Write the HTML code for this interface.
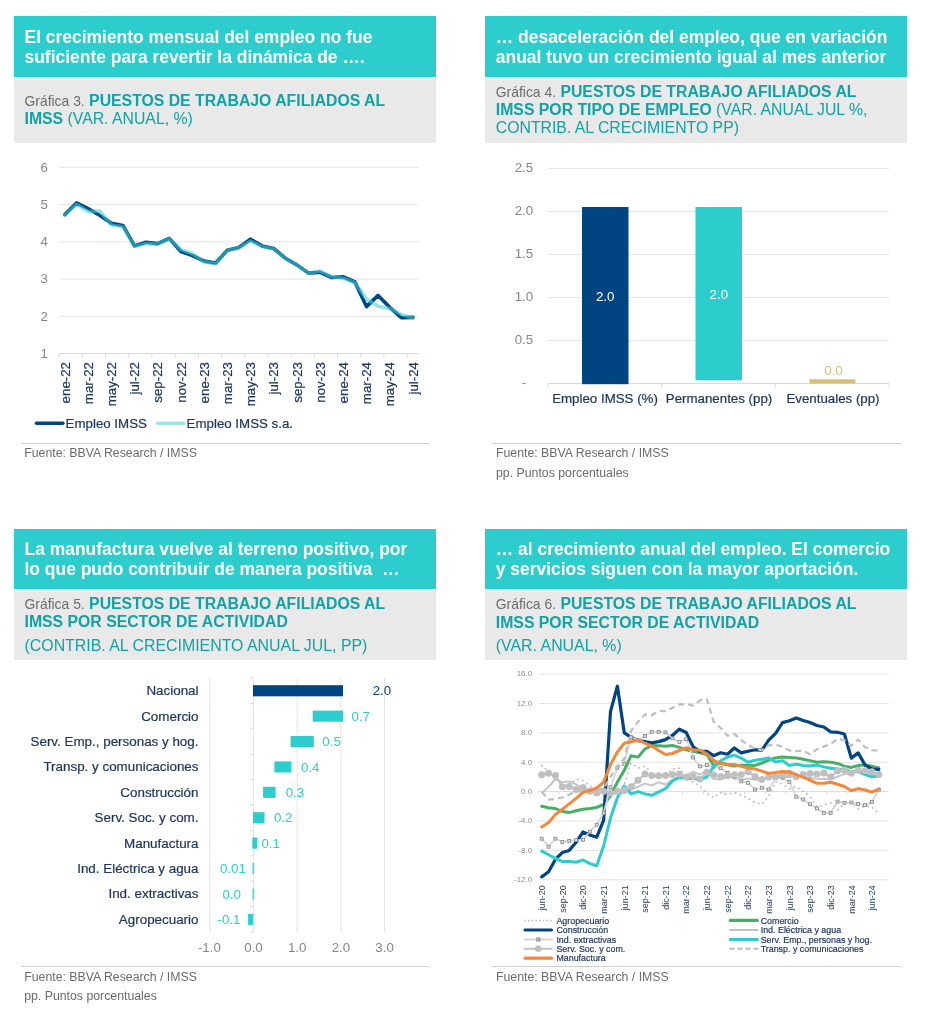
<!DOCTYPE html>
<html lang="es"><head><meta charset="utf-8"><title>Empleo IMSS</title>
<style>
html,body{margin:0;padding:0;background:#fff;}
body{width:926px;height:1024px;position:relative;overflow:hidden;font-family:"Liberation Sans", sans-serif;}
.teal{position:absolute;background:#2dcccd;}
.grey{position:absolute;background:#e9e9e9;}
.ttl{position:absolute;color:#fff;font-weight:bold;font-size:17.45px;line-height:19.8px;white-space:nowrap;margin:0;}
.sub{position:absolute;color:#0fa3a6;font-size:15.8px;line-height:18.2px;white-space:nowrap;margin:0;}
.sub .g{color:#6e6b6b;font-size:13.9px;line-height:1;}
.sub b{font-weight:bold;}
.src{position:absolute;color:#6b6b6b;font-size:12.3px;line-height:19.3px;white-space:nowrap;margin:0;}
.rule{position:absolute;height:1px;background:#d0d0d0;}
svg{position:absolute;left:0;top:0;}
svg text{font-family:"Liberation Sans", sans-serif;}
svg text.nv{stroke:#1d355f;stroke-width:0.22px;}
</style></head><body>
<div class="teal" style="left:14.1px;top:15.8px;width:422.0px;height:60.8px"></div>
<div class="grey" style="left:14.1px;top:76.6px;width:422.0px;height:66.0px"></div>
<div class="teal" style="left:485.2px;top:15.8px;width:422.3px;height:60.8px"></div>
<div class="grey" style="left:485.2px;top:76.6px;width:422.3px;height:66.0px"></div>
<div class="teal" style="left:14.1px;top:528.6px;width:422.0px;height:60.8px"></div>
<div class="grey" style="left:14.1px;top:589.4px;width:422.0px;height:70.8px"></div>
<div class="teal" style="left:485.2px;top:528.6px;width:422.3px;height:60.8px"></div>
<div class="grey" style="left:485.2px;top:589.4px;width:422.3px;height:70.8px"></div>
<p class="ttl" style="left:24.5px;top:28.0px">El crecimiento mensual del empleo no fue<br>suficiente para revertir la dinámica de ….</p>
<p class="ttl" style="left:495.8px;top:28.0px">… desaceleración del empleo, que en variación<br>anual tuvo un crecimiento igual al mes anterior</p>
<p class="ttl" style="left:24.5px;top:540.1px">La manufactura vuelve al terreno positivo, por<br>lo que pudo contribuir de manera positiva &nbsp;…</p>
<p class="ttl" style="left:495.8px;top:540.1px">… al crecimiento anual del empleo. El comercio<br>y servicios siguen con la mayor aportación.</p>
<p class="sub" style="left:24.5px;top:92.0px"><span class="g">Gráfica 3.</span> <b>PUESTOS DE TRABAJO AFILIADOS AL<br>IMSS</b> (VAR. ANUAL, %)</p>
<p class="sub" style="left:495.8px;top:82.5px"><span class="g">Gráfica 4.</span> <b>PUESTOS DE TRABAJO AFILIADOS AL<br>IMSS POR TIPO DE EMPLEO</b> (VAR. ANUAL JUL %,<br>CONTRIB. AL CRECIMIENTO PP)</p>
<p class="sub" style="left:24.5px;top:595.2px"><span class="g">Gráfica 5.</span> <b>PUESTOS DE TRABAJO AFILIADOS AL<br>IMSS POR SECTOR DE ACTIVIDAD</b></p>
<p class="sub" style="left:24.5px;top:637.0px;font-size:15.9px">(CONTRIB. AL CRECIMIENTO ANUAL JUL, PP)</p>
<p class="sub" style="left:495.8px;top:595.4px"><span class="g">Gráfica 6.</span> <b>PUESTOS DE TRABAJO AFILIADOS AL<br>IMSS POR SECTOR DE ACTIVIDAD</b></p>
<p class="sub" style="left:495.8px;top:637.2px;font-size:15.9px">(VAR. ANUAL, %)</p>
<div class="rule" style="left:21.2px;top:442.8px;width:407.7px"></div>
<p class="src" style="left:24.2px;top:444.3px">Fuente: BBVA Research / IMSS</p>
<div class="rule" style="left:492.2px;top:442.8px;width:409px"></div>
<p class="src" style="left:496.0px;top:444.3px">Fuente: BBVA Research / IMSS<br>pp. Puntos porcentuales</p>
<div class="rule" style="left:21.2px;top:966.3px;width:407.7px"></div>
<p class="src" style="left:24.2px;top:967.5px">Fuente: BBVA Research / IMSS<br>pp. Puntos porcentuales</p>
<div class="rule" style="left:492.2px;top:966.3px;width:409px"></div>
<p class="src" style="left:496.0px;top:967.5px">Fuente: BBVA Research / IMSS</p>
<svg width="926" height="1024" viewBox="0 0 926 1024">
<g id="c3">
<line x1="59.1" x2="418.7" y1="167.3" y2="167.3" stroke="#e4e4e4" stroke-width="1"/>
<line x1="59.1" x2="418.7" y1="204.5" y2="204.5" stroke="#e4e4e4" stroke-width="1"/>
<line x1="59.1" x2="418.7" y1="241.8" y2="241.8" stroke="#e4e4e4" stroke-width="1"/>
<line x1="59.1" x2="418.7" y1="279.0" y2="279.0" stroke="#e4e4e4" stroke-width="1"/>
<line x1="59.1" x2="418.7" y1="316.3" y2="316.3" stroke="#e4e4e4" stroke-width="1"/>
<line x1="59.1" x2="418.7" y1="353.5" y2="353.5" stroke="#d9d9d9" stroke-width="1"/>
<line x1="59.1" x2="59.1" y1="353.5" y2="357.5" stroke="#d9d9d9" stroke-width="1"/>
<line x1="82.3" x2="82.3" y1="353.5" y2="357.5" stroke="#d9d9d9" stroke-width="1"/>
<line x1="105.5" x2="105.5" y1="353.5" y2="357.5" stroke="#d9d9d9" stroke-width="1"/>
<line x1="128.7" x2="128.7" y1="353.5" y2="357.5" stroke="#d9d9d9" stroke-width="1"/>
<line x1="151.9" x2="151.9" y1="353.5" y2="357.5" stroke="#d9d9d9" stroke-width="1"/>
<line x1="175.1" x2="175.1" y1="353.5" y2="357.5" stroke="#d9d9d9" stroke-width="1"/>
<line x1="198.3" x2="198.3" y1="353.5" y2="357.5" stroke="#d9d9d9" stroke-width="1"/>
<line x1="221.5" x2="221.5" y1="353.5" y2="357.5" stroke="#d9d9d9" stroke-width="1"/>
<line x1="244.7" x2="244.7" y1="353.5" y2="357.5" stroke="#d9d9d9" stroke-width="1"/>
<line x1="267.9" x2="267.9" y1="353.5" y2="357.5" stroke="#d9d9d9" stroke-width="1"/>
<line x1="291.1" x2="291.1" y1="353.5" y2="357.5" stroke="#d9d9d9" stroke-width="1"/>
<line x1="314.3" x2="314.3" y1="353.5" y2="357.5" stroke="#d9d9d9" stroke-width="1"/>
<line x1="337.5" x2="337.5" y1="353.5" y2="357.5" stroke="#d9d9d9" stroke-width="1"/>
<line x1="360.7" x2="360.7" y1="353.5" y2="357.5" stroke="#d9d9d9" stroke-width="1"/>
<line x1="383.9" x2="383.9" y1="353.5" y2="357.5" stroke="#d9d9d9" stroke-width="1"/>
<line x1="407.1" x2="407.1" y1="353.5" y2="357.5" stroke="#d9d9d9" stroke-width="1"/>
<text x="47.8" y="171.6" font-size="13.3" fill="#868686" text-anchor="end">6</text>
<text x="47.8" y="208.8" font-size="13.3" fill="#868686" text-anchor="end">5</text>
<text x="47.8" y="246.1" font-size="13.3" fill="#868686" text-anchor="end">4</text>
<text x="47.8" y="283.3" font-size="13.3" fill="#868686" text-anchor="end">3</text>
<text x="47.8" y="320.6" font-size="13.3" fill="#868686" text-anchor="end">2</text>
<text x="47.8" y="357.8" font-size="13.3" fill="#868686" text-anchor="end">1</text>
<path d="M64.9 214.6 L76.5 202.9 L88.1 208.6 L99.7 215.3 L111.3 223.2 L122.9 225.4 L134.5 245.9 L146.1 242.2 L157.7 243.6 L169.3 238.4 L180.9 251.5 L192.5 255.6 L204.1 261.1 L215.7 263.0 L227.3 250.3 L238.9 247.4 L250.5 239.2 L262.1 245.9 L273.7 248.5 L285.3 258.2 L296.9 264.9 L308.5 273.1 L320.1 272.3 L331.7 277.5 L343.3 276.8 L354.9 282.0 L366.5 306.6 L378.1 295.4 L389.7 307.3 L401.3 317.7 L412.9 317.4" fill="none" stroke="#004481" stroke-width="3.6" stroke-linejoin="round" stroke-linecap="round"/>
<path d="M64.9 215.2 L76.5 204.2 L88.1 211.6 L99.7 210.9 L111.3 225.0 L122.9 226.7 L134.5 246.4 L146.1 243.6 L157.7 244.0 L169.3 238.6 L180.9 249.6 L192.5 253.7 L204.1 261.9 L215.7 263.6 L227.3 250.5 L238.9 247.7 L250.5 241.0 L262.1 246.6 L273.7 248.9 L285.3 258.4 L296.9 264.7 L308.5 273.2 L320.1 270.8 L331.7 276.8 L343.3 278.3 L354.9 282.6 L366.5 299.1 L378.1 306.2 L389.7 308.4 L401.3 314.4 L412.9 318.3" fill="none" stroke="#3fd0d4" stroke-opacity="0.56" stroke-width="3.6" stroke-linejoin="round" stroke-linecap="round"/>
<text class="nv" transform="translate(69.5 362.0) rotate(-90)" font-size="13.3" fill="#1d355f" text-anchor="end">ene-22</text>
<text class="nv" transform="translate(92.7 362.0) rotate(-90)" font-size="13.3" fill="#1d355f" text-anchor="end">mar-22</text>
<text class="nv" transform="translate(115.9 362.0) rotate(-90)" font-size="13.3" fill="#1d355f" text-anchor="end">may-22</text>
<text class="nv" transform="translate(139.1 362.0) rotate(-90)" font-size="13.3" fill="#1d355f" text-anchor="end">jul-22</text>
<text class="nv" transform="translate(162.3 362.0) rotate(-90)" font-size="13.3" fill="#1d355f" text-anchor="end">sep-22</text>
<text class="nv" transform="translate(185.5 362.0) rotate(-90)" font-size="13.3" fill="#1d355f" text-anchor="end">nov-22</text>
<text class="nv" transform="translate(208.7 362.0) rotate(-90)" font-size="13.3" fill="#1d355f" text-anchor="end">ene-23</text>
<text class="nv" transform="translate(231.9 362.0) rotate(-90)" font-size="13.3" fill="#1d355f" text-anchor="end">mar-23</text>
<text class="nv" transform="translate(255.1 362.0) rotate(-90)" font-size="13.3" fill="#1d355f" text-anchor="end">may-23</text>
<text class="nv" transform="translate(278.3 362.0) rotate(-90)" font-size="13.3" fill="#1d355f" text-anchor="end">jul-23</text>
<text class="nv" transform="translate(301.5 362.0) rotate(-90)" font-size="13.3" fill="#1d355f" text-anchor="end">sep-23</text>
<text class="nv" transform="translate(324.7 362.0) rotate(-90)" font-size="13.3" fill="#1d355f" text-anchor="end">nov-23</text>
<text class="nv" transform="translate(347.9 362.0) rotate(-90)" font-size="13.3" fill="#1d355f" text-anchor="end">ene-24</text>
<text class="nv" transform="translate(371.1 362.0) rotate(-90)" font-size="13.3" fill="#1d355f" text-anchor="end">mar-24</text>
<text class="nv" transform="translate(394.3 362.0) rotate(-90)" font-size="13.3" fill="#1d355f" text-anchor="end">may-24</text>
<text class="nv" transform="translate(417.5 362.0) rotate(-90)" font-size="13.3" fill="#1d355f" text-anchor="end">jul-24</text>
<line x1="36.5" x2="62.8" y1="423.3" y2="423.3" stroke="#004481" stroke-width="3.6" stroke-linecap="round"/>
<text class="nv" x="65.6" y="427.8" font-size="13.3" fill="#1d355f">Empleo IMSS</text>
<line x1="157.8" x2="183.8" y1="423.3" y2="423.3" stroke="#9de5e9" stroke-width="3.6" stroke-linecap="round"/>
<text class="nv" x="186.6" y="427.8" font-size="13.3" fill="#1d355f">Empleo IMSS s.a.</text>
</g>
<g id="c4">
<line x1="548.0" x2="889.0" y1="168.5" y2="168.5" stroke="#e4e4e4" stroke-width="1"/>
<line x1="548.0" x2="889.0" y1="211.5" y2="211.5" stroke="#e4e4e4" stroke-width="1"/>
<line x1="548.0" x2="889.0" y1="254.5" y2="254.5" stroke="#e4e4e4" stroke-width="1"/>
<line x1="548.0" x2="889.0" y1="297.5" y2="297.5" stroke="#e4e4e4" stroke-width="1"/>
<line x1="548.0" x2="889.0" y1="340.5" y2="340.5" stroke="#e4e4e4" stroke-width="1"/>
<line x1="548.0" x2="889.0" y1="383.5" y2="383.5" stroke="#d9d9d9" stroke-width="1"/>
<line x1="548.0" x2="548.0" y1="383.5" y2="387.5" stroke="#d9d9d9" stroke-width="1"/>
<line x1="661.7" x2="661.7" y1="383.5" y2="387.5" stroke="#d9d9d9" stroke-width="1"/>
<line x1="775.3" x2="775.3" y1="383.5" y2="387.5" stroke="#d9d9d9" stroke-width="1"/>
<line x1="889.0" x2="889.0" y1="383.5" y2="387.5" stroke="#d9d9d9" stroke-width="1"/>
<text x="533.2" y="172.4" font-size="13.3" fill="#868686" text-anchor="end">2.5</text>
<text x="533.2" y="215.4" font-size="13.3" fill="#868686" text-anchor="end">2.0</text>
<text x="533.2" y="258.4" font-size="13.3" fill="#868686" text-anchor="end">1.5</text>
<text x="533.2" y="301.4" font-size="13.3" fill="#868686" text-anchor="end">1.0</text>
<text x="533.2" y="344.4" font-size="13.3" fill="#868686" text-anchor="end">0.5</text>
<text x="526.5" y="387.4" font-size="13.3" fill="#868686" text-anchor="end">-</text>
<rect x="582" y="207" width="46.5" height="177.2" fill="#004481"/>
<rect x="695.5" y="207" width="46.5" height="173.3" fill="#2dcccd"/>
<rect x="809.5" y="379.3" width="46" height="4.2" fill="#d8be75"/>
<text x="605.2" y="301.4" font-size="13.3" fill="#fff" text-anchor="middle">2.0</text>
<text x="718.8" y="299.0" font-size="13.3" fill="#fff" text-anchor="middle">2.0</text>
<text x="833.5" y="375.4" font-size="13.3" fill="#d8be75" text-anchor="middle">0.0</text>
<text class="nv" x="605" y="403.3" font-size="13.3" fill="#1d355f" text-anchor="middle">Empleo IMSS (%)</text>
<text class="nv" x="719" y="403.3" font-size="13.3" fill="#1d355f" text-anchor="middle">Permanentes (pp)</text>
<text class="nv" x="833" y="403.3" font-size="13.3" fill="#1d355f" text-anchor="middle">Eventuales (pp)</text>
</g>
<g id="c5">
<line x1="209.8" x2="209.8" y1="677.6" y2="932.5" stroke="#e4e4e4" stroke-width="1"/>
<line x1="253.5" x2="253.5" y1="677.6" y2="932.5" stroke="#e4e4e4" stroke-width="1"/>
<line x1="297.2" x2="297.2" y1="677.6" y2="932.5" stroke="#e4e4e4" stroke-width="1"/>
<line x1="340.9" x2="340.9" y1="677.6" y2="932.5" stroke="#e4e4e4" stroke-width="1"/>
<line x1="384.6" x2="384.6" y1="677.6" y2="932.5" stroke="#e4e4e4" stroke-width="1"/>
<line x1="250.1" x2="253.5" y1="678.0" y2="678.0" stroke="#d9d9d9" stroke-width="1"/>
<line x1="250.1" x2="253.5" y1="703.4" y2="703.4" stroke="#d9d9d9" stroke-width="1"/>
<line x1="250.1" x2="253.5" y1="728.8" y2="728.8" stroke="#d9d9d9" stroke-width="1"/>
<line x1="250.1" x2="253.5" y1="754.2" y2="754.2" stroke="#d9d9d9" stroke-width="1"/>
<line x1="250.1" x2="253.5" y1="779.6" y2="779.6" stroke="#d9d9d9" stroke-width="1"/>
<line x1="250.1" x2="253.5" y1="805.0" y2="805.0" stroke="#d9d9d9" stroke-width="1"/>
<line x1="250.1" x2="253.5" y1="830.4" y2="830.4" stroke="#d9d9d9" stroke-width="1"/>
<line x1="250.1" x2="253.5" y1="855.8" y2="855.8" stroke="#d9d9d9" stroke-width="1"/>
<line x1="250.1" x2="253.5" y1="881.2" y2="881.2" stroke="#d9d9d9" stroke-width="1"/>
<line x1="250.1" x2="253.5" y1="906.6" y2="906.6" stroke="#d9d9d9" stroke-width="1"/>
<line x1="250.1" x2="253.5" y1="932.0" y2="932.0" stroke="#d9d9d9" stroke-width="1"/>
<rect x="252.9" y="685.2" width="90.1" height="11.1" fill="#004481"/>
<text class="nv" x="198.5" y="695.2" font-size="13.4" fill="#1d355f" text-anchor="end">Nacional</text>
<text x="372.7" y="695.4" font-size="13.3" fill="#004481" text-anchor="start">2.0</text>
<rect x="312.7" y="710.6" width="30.3" height="11.1" fill="#2dcccd"/>
<text class="nv" x="198.5" y="720.6" font-size="13.4" fill="#1d355f" text-anchor="end">Comercio</text>
<text x="351.5" y="720.8" font-size="13.3" fill="#2dcccd" text-anchor="start">0.7</text>
<rect x="290.6" y="736.0" width="23.2" height="11.1" fill="#2dcccd"/>
<text class="nv" x="198.5" y="746.0" font-size="13.4" fill="#1d355f" text-anchor="end">Serv. Emp., personas y hog.</text>
<text x="322.3" y="746.2" font-size="13.3" fill="#2dcccd" text-anchor="start">0.5</text>
<rect x="274.4" y="761.4" width="17.0" height="11.1" fill="#2dcccd"/>
<text class="nv" x="198.5" y="771.4" font-size="13.4" fill="#1d355f" text-anchor="end">Transp. y comunicaciones</text>
<text x="301.0" y="771.6" font-size="13.3" fill="#2dcccd" text-anchor="start">0.4</text>
<rect x="263.1" y="786.8" width="12.5" height="11.1" fill="#2dcccd"/>
<text class="nv" x="198.5" y="796.8" font-size="13.4" fill="#1d355f" text-anchor="end">Construcción</text>
<text x="285.7" y="797.0" font-size="13.3" fill="#2dcccd" text-anchor="start">0.3</text>
<rect x="252.9" y="812.2" width="11.6" height="11.1" fill="#2dcccd"/>
<text class="nv" x="198.5" y="822.2" font-size="13.4" fill="#1d355f" text-anchor="end">Serv. Soc. y com.</text>
<text x="273.9" y="822.4" font-size="13.3" fill="#2dcccd" text-anchor="start">0.2</text>
<rect x="252.3" y="837.6" width="5.1" height="11.1" fill="#2dcccd"/>
<text class="nv" x="198.5" y="847.6" font-size="13.4" fill="#1d355f" text-anchor="end">Manufactura</text>
<text x="261.4" y="847.8" font-size="13.3" fill="#2dcccd" text-anchor="start">0.1</text>
<rect x="252.3" y="863.0" width="2.0" height="11.1" fill="#2dcccd" fill-opacity="0.7"/>
<text class="nv" x="198.5" y="873.0" font-size="13.4" fill="#1d355f" text-anchor="end">Ind. Eléctrica y agua</text>
<text x="245.8" y="873.2" font-size="13.3" fill="#2dcccd" text-anchor="end">0.01</text>
<rect x="252.3" y="888.4" width="2.0" height="11.1" fill="#2dcccd" fill-opacity="0.7"/>
<text class="nv" x="198.5" y="898.4" font-size="13.4" fill="#1d355f" text-anchor="end">Ind. extractivas</text>
<text x="241.0" y="898.6" font-size="13.3" fill="#2dcccd" text-anchor="end">0.0</text>
<rect x="248.1" y="913.8" width="5.1" height="11.1" fill="#2dcccd"/>
<text class="nv" x="198.5" y="923.8" font-size="13.4" fill="#1d355f" text-anchor="end">Agropecuario</text>
<text x="240.4" y="924.0" font-size="13.3" fill="#2dcccd" text-anchor="end">-0.1</text>
<text x="209.4" y="951.7" font-size="13.3" fill="#868686" text-anchor="middle">-1.0</text>
<text x="253.5" y="951.7" font-size="13.3" fill="#868686" text-anchor="middle">0.0</text>
<text x="297.2" y="951.7" font-size="13.3" fill="#868686" text-anchor="middle">1.0</text>
<text x="340.9" y="951.7" font-size="13.3" fill="#868686" text-anchor="middle">2.0</text>
<text x="384.6" y="951.7" font-size="13.3" fill="#868686" text-anchor="middle">3.0</text>
</g>
<g id="c6">
<line x1="538.4" x2="888.8" y1="674.1" y2="674.1" stroke="#e4e4e4" stroke-width="1"/>
<text x="532.1" y="676.4" font-size="7.9" fill="#8e8e8e" text-anchor="end">16.0</text>
<line x1="538.4" x2="888.8" y1="703.5" y2="703.5" stroke="#e4e4e4" stroke-width="1"/>
<text x="532.1" y="705.8" font-size="7.9" fill="#8e8e8e" text-anchor="end">12.0</text>
<line x1="538.4" x2="888.8" y1="732.9" y2="732.9" stroke="#e4e4e4" stroke-width="1"/>
<text x="532.1" y="735.2" font-size="7.9" fill="#8e8e8e" text-anchor="end">8.0</text>
<line x1="538.4" x2="888.8" y1="762.3" y2="762.3" stroke="#e4e4e4" stroke-width="1"/>
<text x="532.1" y="764.6" font-size="7.9" fill="#8e8e8e" text-anchor="end">4.0</text>
<line x1="538.4" x2="888.8" y1="791.6" y2="791.6" stroke="#d9d9d9" stroke-width="1"/>
<text x="532.1" y="793.9" font-size="7.9" fill="#8e8e8e" text-anchor="end">0.0</text>
<line x1="538.4" x2="888.8" y1="821.0" y2="821.0" stroke="#e4e4e4" stroke-width="1"/>
<text x="532.1" y="823.3" font-size="7.9" fill="#8e8e8e" text-anchor="end">-4.0</text>
<line x1="538.4" x2="888.8" y1="850.4" y2="850.4" stroke="#e4e4e4" stroke-width="1"/>
<text x="532.1" y="852.7" font-size="7.9" fill="#8e8e8e" text-anchor="end">-8.0</text>
<line x1="538.4" x2="888.8" y1="879.8" y2="879.8" stroke="#e4e4e4" stroke-width="1"/>
<text x="532.1" y="882.1" font-size="7.9" fill="#8e8e8e" text-anchor="end">-12.0</text>
<line x1="538.3" x2="538.3" y1="791.6" y2="794.1" stroke="#d9d9d9" stroke-width="1"/>
<line x1="558.9" x2="558.9" y1="791.6" y2="794.1" stroke="#d9d9d9" stroke-width="1"/>
<line x1="579.5" x2="579.5" y1="791.6" y2="794.1" stroke="#d9d9d9" stroke-width="1"/>
<line x1="600.2" x2="600.2" y1="791.6" y2="794.1" stroke="#d9d9d9" stroke-width="1"/>
<line x1="620.8" x2="620.8" y1="791.6" y2="794.1" stroke="#d9d9d9" stroke-width="1"/>
<line x1="641.5" x2="641.5" y1="791.6" y2="794.1" stroke="#d9d9d9" stroke-width="1"/>
<line x1="662.1" x2="662.1" y1="791.6" y2="794.1" stroke="#d9d9d9" stroke-width="1"/>
<line x1="682.7" x2="682.7" y1="791.6" y2="794.1" stroke="#d9d9d9" stroke-width="1"/>
<line x1="703.4" x2="703.4" y1="791.6" y2="794.1" stroke="#d9d9d9" stroke-width="1"/>
<line x1="724.0" x2="724.0" y1="791.6" y2="794.1" stroke="#d9d9d9" stroke-width="1"/>
<line x1="744.7" x2="744.7" y1="791.6" y2="794.1" stroke="#d9d9d9" stroke-width="1"/>
<line x1="765.3" x2="765.3" y1="791.6" y2="794.1" stroke="#d9d9d9" stroke-width="1"/>
<line x1="785.9" x2="785.9" y1="791.6" y2="794.1" stroke="#d9d9d9" stroke-width="1"/>
<line x1="806.6" x2="806.6" y1="791.6" y2="794.1" stroke="#d9d9d9" stroke-width="1"/>
<line x1="827.2" x2="827.2" y1="791.6" y2="794.1" stroke="#d9d9d9" stroke-width="1"/>
<line x1="847.9" x2="847.9" y1="791.6" y2="794.1" stroke="#d9d9d9" stroke-width="1"/>
<line x1="868.5" x2="868.5" y1="791.6" y2="794.1" stroke="#d9d9d9" stroke-width="1"/>
<path d="M541.7 765.6 L548.6 771.8 L555.5 778.4 L562.3 785.0 L569.2 785.0 L576.1 779.2 L583.0 780.6 L589.9 785.8 L596.7 790.2 L603.6 793.1 L610.5 794.6 L617.4 793.1 L624.3 784.3 L631.1 763.0 L638.0 768.1 L644.9 766.3 L651.8 773.3 L658.7 776.2 L665.5 774.8 L672.4 769.3 L679.3 768.1 L686.2 779.7 L693.1 782.2 L699.9 786.1 L706.8 793.1 L713.7 797.7 L720.6 792.5 L727.5 794.5 L734.3 792.5 L741.2 795.1 L748.1 798.3 L755.0 802.7 L761.9 804.1 L768.7 796.1 L775.6 781.6 L782.5 784.1 L789.4 788.9 L796.3 786.5 L803.1 791.4 L810.0 796.3 L816.9 806.8 L823.8 805.1 L830.7 802.8 L837.5 810.0 L844.4 803.4 L851.3 802.7 L858.2 808.8 L865.1 806.0 L871.9 807.1 L878.8 813.7" fill="none" stroke="#c2c2c2" stroke-width="2" stroke-dasharray="0.1 5" stroke-linecap="round" stroke-linejoin="round"/>
<path d="M541.7 806.3 L548.6 807.8 L555.5 808.5 L562.3 811.5 L569.2 812.6 L576.1 810.7 L583.0 809.3 L589.9 808.5 L596.7 807.4 L603.6 804.5 L610.5 796.1 L617.4 782.1 L624.3 770.3 L631.1 755.7 L638.0 757.1 L644.9 749.0 L651.8 745.4 L658.7 745.8 L665.5 746.3 L672.4 745.4 L679.3 747.4 L686.2 749.8 L693.1 751.3 L699.9 752.7 L706.8 754.5 L713.7 765.4 L720.6 763.0 L727.5 764.8 L734.3 765.9 L741.2 765.2 L748.1 765.2 L755.0 765.4 L761.9 763.0 L768.7 760.1 L775.6 757.9 L782.5 757.1 L789.4 757.5 L796.3 757.9 L803.1 759.2 L810.0 760.6 L816.9 762.3 L823.8 761.7 L830.7 762.3 L837.5 763.4 L844.4 766.2 L851.3 767.4 L858.2 765.5 L865.1 764.8 L871.9 766.2 L878.8 767.9" fill="none" stroke="#48ae64" stroke-width="3" stroke-linejoin="round" stroke-linecap="round"/>
<path d="M541.7 876.9 L548.6 871.7 L555.5 859.2 L562.3 852.6 L569.2 850.4 L576.1 842.3 L583.0 832.0 L589.9 835.0 L596.7 837.2 L603.6 820.3 L610.5 711.6 L617.4 686.2 L624.3 732.9 L631.1 737.3 L638.0 740.6 L644.9 741.7 L651.8 742.8 L658.7 741.6 L665.5 739.6 L672.4 735.5 L679.3 729.2 L686.2 732.5 L693.1 746.8 L699.9 751.3 L706.8 751.3 L713.7 755.7 L720.6 752.7 L727.5 754.2 L734.3 748.0 L741.2 752.9 L748.1 751.3 L755.0 749.8 L761.9 750.2 L768.7 740.2 L775.6 733.3 L782.5 722.6 L789.4 720.7 L796.3 717.9 L803.1 720.4 L810.0 722.6 L816.9 725.5 L823.8 727.0 L830.7 731.9 L837.5 732.3 L844.4 734.0 L851.3 758.1 L858.2 752.9 L865.1 765.1 L871.9 769.0 L878.8 769.4" fill="none" stroke="#004481" stroke-width="3.2" stroke-linejoin="round" stroke-linecap="round"/>
<path d="M541.7 793.1 L548.6 786.7 L555.5 779.2 L562.3 782.1 L569.2 781.4 L576.1 784.3 L583.0 788.7 L589.9 790.5 L596.7 791.6 L603.6 792.4 L610.5 791.6 L617.4 792.4 L624.3 793.1 L631.1 789.4 L638.0 786.7 L644.9 783.6 L651.8 785.4 L658.7 782.2 L665.5 784.5 L672.4 779.9 L679.3 777.0 L686.2 775.5 L693.1 771.8 L699.9 774.5 L706.8 770.6 L713.7 779.0 L720.6 779.4 L727.5 777.0 L734.3 777.0 L741.2 779.7 L748.1 778.4 L755.0 779.7 L761.9 779.7 L768.7 777.3 L775.6 777.0 L782.5 777.0 L789.4 777.0 L796.3 776.7 L803.1 776.2 L810.0 778.1 L816.9 778.8 L823.8 779.0 L830.7 779.5 L837.5 776.7 L844.4 773.9 L851.3 773.3 L858.2 771.1 L865.1 771.8 L871.9 773.3 L878.8 773.9" fill="none" stroke="#c6c6c6" stroke-width="2" stroke-linejoin="round"/>
<path d="M541.7 838.7 L548.6 846.7 L555.5 838.7 L562.3 842.0 L569.2 840.9 L576.1 840.1 L583.0 839.8 L589.9 831.7 L596.7 824.7 L603.6 813.0 L610.5 787.2 L617.4 767.8 L624.3 763.7 L631.1 737.3 L638.0 740.2 L644.9 735.8 L651.8 731.9 L658.7 731.9 L665.5 732.3 L672.4 738.3 L679.3 741.9 L686.2 739.2 L693.1 757.4 L699.9 766.4 L706.8 765.1 L713.7 766.7 L720.6 768.1 L727.5 772.8 L734.3 777.3 L741.2 781.4 L748.1 782.8 L755.0 789.6 L761.9 787.8 L768.7 789.4 L775.6 778.1 L782.5 777.8 L789.4 781.9 L796.3 796.7 L803.1 799.5 L810.0 804.2 L816.9 808.5 L823.8 812.8 L830.7 812.8 L837.5 801.6 L844.4 802.8 L851.3 802.6 L858.2 804.0 L865.1 805.1 L871.9 801.9 L878.8 789.7" fill="none" stroke="#d6d6d6" stroke-width="1.8" stroke-linejoin="round"/>
<rect x="540.2" y="837.2" width="2.9" height="2.9" fill="#e4e4e4" stroke="#858585" stroke-width="0.85"/>
<rect x="547.1" y="845.3" width="2.9" height="2.9" fill="#e4e4e4" stroke="#858585" stroke-width="0.85"/>
<rect x="554.0" y="837.2" width="2.9" height="2.9" fill="#e4e4e4" stroke="#858585" stroke-width="0.85"/>
<rect x="560.9" y="840.5" width="2.9" height="2.9" fill="#e4e4e4" stroke="#858585" stroke-width="0.85"/>
<rect x="567.8" y="839.4" width="2.9" height="2.9" fill="#e4e4e4" stroke="#858585" stroke-width="0.85"/>
<rect x="574.6" y="838.7" width="2.9" height="2.9" fill="#e4e4e4" stroke="#858585" stroke-width="0.85"/>
<rect x="581.5" y="838.3" width="2.9" height="2.9" fill="#e4e4e4" stroke="#858585" stroke-width="0.85"/>
<rect x="588.4" y="830.2" width="2.9" height="2.9" fill="#e4e4e4" stroke="#858585" stroke-width="0.85"/>
<rect x="595.3" y="823.3" width="2.9" height="2.9" fill="#e4e4e4" stroke="#858585" stroke-width="0.85"/>
<rect x="602.2" y="811.5" width="2.9" height="2.9" fill="#e4e4e4" stroke="#858585" stroke-width="0.85"/>
<rect x="609.0" y="785.8" width="2.9" height="2.9" fill="#e4e4e4" stroke="#858585" stroke-width="0.85"/>
<rect x="615.9" y="766.3" width="2.9" height="2.9" fill="#e4e4e4" stroke="#858585" stroke-width="0.85"/>
<rect x="622.8" y="762.3" width="2.9" height="2.9" fill="#e4e4e4" stroke="#858585" stroke-width="0.85"/>
<rect x="629.7" y="735.8" width="2.9" height="2.9" fill="#e4e4e4" stroke="#858585" stroke-width="0.85"/>
<rect x="636.6" y="738.8" width="2.9" height="2.9" fill="#e4e4e4" stroke="#858585" stroke-width="0.85"/>
<rect x="643.5" y="734.4" width="2.9" height="2.9" fill="#e4e4e4" stroke="#858585" stroke-width="0.85"/>
<rect x="650.3" y="730.4" width="2.9" height="2.9" fill="#e4e4e4" stroke="#858585" stroke-width="0.85"/>
<rect x="657.2" y="730.4" width="2.9" height="2.9" fill="#e4e4e4" stroke="#858585" stroke-width="0.85"/>
<rect x="664.1" y="730.9" width="2.9" height="2.9" fill="#e4e4e4" stroke="#858585" stroke-width="0.85"/>
<rect x="671.0" y="736.9" width="2.9" height="2.9" fill="#e4e4e4" stroke="#858585" stroke-width="0.85"/>
<rect x="677.9" y="740.5" width="2.9" height="2.9" fill="#e4e4e4" stroke="#858585" stroke-width="0.85"/>
<rect x="684.7" y="737.8" width="2.9" height="2.9" fill="#e4e4e4" stroke="#858585" stroke-width="0.85"/>
<rect x="691.6" y="756.0" width="2.9" height="2.9" fill="#e4e4e4" stroke="#858585" stroke-width="0.85"/>
<rect x="698.5" y="764.9" width="2.9" height="2.9" fill="#e4e4e4" stroke="#858585" stroke-width="0.85"/>
<rect x="705.4" y="763.6" width="2.9" height="2.9" fill="#e4e4e4" stroke="#858585" stroke-width="0.85"/>
<rect x="712.2" y="765.2" width="2.9" height="2.9" fill="#e4e4e4" stroke="#858585" stroke-width="0.85"/>
<rect x="719.1" y="766.7" width="2.9" height="2.9" fill="#e4e4e4" stroke="#858585" stroke-width="0.85"/>
<rect x="726.0" y="771.3" width="2.9" height="2.9" fill="#e4e4e4" stroke="#858585" stroke-width="0.85"/>
<rect x="732.9" y="775.9" width="2.9" height="2.9" fill="#e4e4e4" stroke="#858585" stroke-width="0.85"/>
<rect x="739.8" y="779.9" width="2.9" height="2.9" fill="#e4e4e4" stroke="#858585" stroke-width="0.85"/>
<rect x="746.6" y="781.4" width="2.9" height="2.9" fill="#e4e4e4" stroke="#858585" stroke-width="0.85"/>
<rect x="753.5" y="788.1" width="2.9" height="2.9" fill="#e4e4e4" stroke="#858585" stroke-width="0.85"/>
<rect x="760.4" y="786.3" width="2.9" height="2.9" fill="#e4e4e4" stroke="#858585" stroke-width="0.85"/>
<rect x="767.3" y="788.0" width="2.9" height="2.9" fill="#e4e4e4" stroke="#858585" stroke-width="0.85"/>
<rect x="774.2" y="776.6" width="2.9" height="2.9" fill="#e4e4e4" stroke="#858585" stroke-width="0.85"/>
<rect x="781.0" y="776.3" width="2.9" height="2.9" fill="#e4e4e4" stroke="#858585" stroke-width="0.85"/>
<rect x="787.9" y="780.4" width="2.9" height="2.9" fill="#e4e4e4" stroke="#858585" stroke-width="0.85"/>
<rect x="794.8" y="795.3" width="2.9" height="2.9" fill="#e4e4e4" stroke="#858585" stroke-width="0.85"/>
<rect x="801.7" y="798.1" width="2.9" height="2.9" fill="#e4e4e4" stroke="#858585" stroke-width="0.85"/>
<rect x="808.6" y="802.8" width="2.9" height="2.9" fill="#e4e4e4" stroke="#858585" stroke-width="0.85"/>
<rect x="815.5" y="807.0" width="2.9" height="2.9" fill="#e4e4e4" stroke="#858585" stroke-width="0.85"/>
<rect x="822.3" y="811.4" width="2.9" height="2.9" fill="#e4e4e4" stroke="#858585" stroke-width="0.85"/>
<rect x="829.2" y="811.4" width="2.9" height="2.9" fill="#e4e4e4" stroke="#858585" stroke-width="0.85"/>
<rect x="836.1" y="800.1" width="2.9" height="2.9" fill="#e4e4e4" stroke="#858585" stroke-width="0.85"/>
<rect x="843.0" y="801.4" width="2.9" height="2.9" fill="#e4e4e4" stroke="#858585" stroke-width="0.85"/>
<rect x="849.9" y="801.1" width="2.9" height="2.9" fill="#e4e4e4" stroke="#858585" stroke-width="0.85"/>
<rect x="856.7" y="802.5" width="2.9" height="2.9" fill="#e4e4e4" stroke="#858585" stroke-width="0.85"/>
<rect x="863.6" y="803.6" width="2.9" height="2.9" fill="#e4e4e4" stroke="#858585" stroke-width="0.85"/>
<rect x="870.5" y="800.4" width="2.9" height="2.9" fill="#e4e4e4" stroke="#858585" stroke-width="0.85"/>
<rect x="877.4" y="788.2" width="2.9" height="2.9" fill="#e4e4e4" stroke="#858585" stroke-width="0.85"/>
<path d="M541.7 851.1 L548.6 854.8 L555.5 858.5 L562.3 861.4 L569.2 861.4 L576.1 862.2 L583.0 860.0 L589.9 863.6 L596.7 865.8 L603.6 846.0 L610.5 818.1 L617.4 797.5 L624.3 786.1 L631.1 793.9 L638.0 791.6 L644.9 793.9 L651.8 795.3 L658.7 791.9 L665.5 788.7 L672.4 780.9 L679.3 777.3 L686.2 778.4 L693.1 778.6 L699.9 779.7 L706.8 777.0 L713.7 766.7 L720.6 760.8 L727.5 757.1 L734.3 755.1 L741.2 758.1 L748.1 762.3 L755.0 760.3 L761.9 759.3 L768.7 757.9 L775.6 762.0 L782.5 760.6 L789.4 765.5 L796.3 764.1 L803.1 765.5 L810.0 765.9 L816.9 765.1 L823.8 766.9 L830.7 768.3 L837.5 769.0 L844.4 770.3 L851.3 771.8 L858.2 771.1 L865.1 774.6 L871.9 776.7 L878.8 776.0" fill="none" stroke="#2dcccd" stroke-width="3" stroke-linejoin="round" stroke-linecap="round"/>
<path d="M541.7 774.8 L548.6 773.3 L555.5 775.5 L562.3 786.7 L569.2 786.5 L576.1 789.4 L583.0 787.4 L589.9 791.3 L596.7 793.1 L603.6 791.3 L610.5 793.1 L617.4 791.3 L624.3 790.3 L631.1 786.7 L638.0 780.3 L644.9 774.0 L651.8 775.5 L658.7 775.8 L665.5 775.5 L672.4 774.5 L679.3 774.0 L686.2 777.0 L693.1 776.4 L699.9 779.0 L706.8 772.3 L713.7 775.1 L720.6 776.4 L727.5 775.8 L734.3 774.8 L741.2 774.5 L748.1 771.8 L755.0 776.4 L761.9 779.4 L768.7 777.1 L775.6 776.7 L782.5 774.4 L789.4 773.3 L796.3 776.7 L803.1 774.6 L810.0 773.4 L816.9 773.9 L823.8 772.9 L830.7 776.7 L837.5 771.1 L844.4 770.0 L851.3 773.3 L858.2 770.3 L865.1 770.8 L871.9 771.8 L878.8 774.6" fill="none" stroke="#c2c2c2" stroke-width="2" stroke-linejoin="round"/>
<circle cx="541.7" cy="774.8" r="3.5" fill="#bfbfbf"/>
<circle cx="548.6" cy="773.3" r="3.5" fill="#bfbfbf"/>
<circle cx="555.5" cy="775.5" r="3.5" fill="#bfbfbf"/>
<circle cx="562.3" cy="786.7" r="3.5" fill="#bfbfbf"/>
<circle cx="569.2" cy="786.5" r="3.5" fill="#bfbfbf"/>
<circle cx="576.1" cy="789.4" r="3.5" fill="#bfbfbf"/>
<circle cx="583.0" cy="787.4" r="3.5" fill="#bfbfbf"/>
<circle cx="589.9" cy="791.3" r="3.5" fill="#bfbfbf"/>
<circle cx="596.7" cy="793.1" r="3.5" fill="#bfbfbf"/>
<circle cx="603.6" cy="791.3" r="3.5" fill="#bfbfbf"/>
<circle cx="610.5" cy="793.1" r="3.5" fill="#bfbfbf"/>
<circle cx="617.4" cy="791.3" r="3.5" fill="#bfbfbf"/>
<circle cx="624.3" cy="790.3" r="3.5" fill="#bfbfbf"/>
<circle cx="631.1" cy="786.7" r="3.5" fill="#bfbfbf"/>
<circle cx="638.0" cy="780.3" r="3.5" fill="#bfbfbf"/>
<circle cx="644.9" cy="774.0" r="3.5" fill="#bfbfbf"/>
<circle cx="651.8" cy="775.5" r="3.5" fill="#bfbfbf"/>
<circle cx="658.7" cy="775.8" r="3.5" fill="#bfbfbf"/>
<circle cx="665.5" cy="775.5" r="3.5" fill="#bfbfbf"/>
<circle cx="672.4" cy="774.5" r="3.5" fill="#bfbfbf"/>
<circle cx="679.3" cy="774.0" r="3.5" fill="#bfbfbf"/>
<circle cx="686.2" cy="777.0" r="3.5" fill="#bfbfbf"/>
<circle cx="693.1" cy="776.4" r="3.5" fill="#bfbfbf"/>
<circle cx="699.9" cy="779.0" r="3.5" fill="#bfbfbf"/>
<circle cx="706.8" cy="772.3" r="3.5" fill="#bfbfbf"/>
<circle cx="713.7" cy="775.1" r="3.5" fill="#bfbfbf"/>
<circle cx="720.6" cy="776.4" r="3.5" fill="#bfbfbf"/>
<circle cx="727.5" cy="775.8" r="3.5" fill="#bfbfbf"/>
<circle cx="734.3" cy="774.8" r="3.5" fill="#bfbfbf"/>
<circle cx="741.2" cy="774.5" r="3.5" fill="#bfbfbf"/>
<circle cx="748.1" cy="771.8" r="3.5" fill="#bfbfbf"/>
<circle cx="755.0" cy="776.4" r="3.5" fill="#bfbfbf"/>
<circle cx="761.9" cy="779.4" r="3.5" fill="#bfbfbf"/>
<circle cx="768.7" cy="777.1" r="3.5" fill="#bfbfbf"/>
<circle cx="775.6" cy="776.7" r="3.5" fill="#bfbfbf"/>
<circle cx="782.5" cy="774.4" r="3.5" fill="#bfbfbf"/>
<circle cx="789.4" cy="773.3" r="3.5" fill="#bfbfbf"/>
<circle cx="796.3" cy="776.7" r="3.5" fill="#bfbfbf"/>
<circle cx="803.1" cy="774.6" r="3.5" fill="#bfbfbf"/>
<circle cx="810.0" cy="773.4" r="3.5" fill="#bfbfbf"/>
<circle cx="816.9" cy="773.9" r="3.5" fill="#bfbfbf"/>
<circle cx="823.8" cy="772.9" r="3.5" fill="#bfbfbf"/>
<circle cx="830.7" cy="776.7" r="3.5" fill="#bfbfbf"/>
<circle cx="837.5" cy="771.1" r="3.5" fill="#bfbfbf"/>
<circle cx="844.4" cy="770.0" r="3.5" fill="#bfbfbf"/>
<circle cx="851.3" cy="773.3" r="3.5" fill="#bfbfbf"/>
<circle cx="858.2" cy="770.3" r="3.5" fill="#bfbfbf"/>
<circle cx="865.1" cy="770.8" r="3.5" fill="#bfbfbf"/>
<circle cx="871.9" cy="771.8" r="3.5" fill="#bfbfbf"/>
<circle cx="878.8" cy="774.6" r="3.5" fill="#bfbfbf"/>
<path d="M541.7 791.6 L548.6 799.7 L555.5 799.0 L562.3 797.5 L569.2 794.6 L576.1 790.9 L583.0 790.5 L589.9 790.9 L596.7 790.2 L603.6 788.0 L610.5 777.0 L617.4 765.9 L624.3 758.6 L631.1 730.7 L638.0 721.9 L644.9 714.5 L651.8 715.3 L658.7 710.9 L665.5 711.2 L672.4 707.9 L679.3 704.5 L686.2 703.9 L693.1 705.7 L699.9 700.3 L706.8 699.3 L713.7 721.6 L720.6 728.0 L727.5 735.8 L734.3 733.8 L741.2 740.2 L748.1 744.8 L755.0 748.7 L761.9 750.2 L768.7 745.2 L775.6 744.9 L782.5 746.6 L789.4 750.5 L796.3 751.1 L803.1 750.8 L810.0 754.3 L816.9 749.4 L823.8 746.6 L830.7 744.1 L837.5 738.9 L844.4 740.2 L851.3 745.9 L858.2 739.6 L865.1 747.3 L871.9 750.1 L878.8 750.8" fill="none" stroke="#c0c0c0" stroke-width="2.3" stroke-dasharray="6 4" stroke-linejoin="round"/>
<path d="M541.7 826.9 L548.6 822.5 L555.5 814.4 L562.3 809.3 L569.2 803.8 L576.1 798.3 L583.0 792.4 L589.9 790.5 L596.7 788.0 L603.6 782.1 L610.5 764.5 L617.4 752.0 L624.3 743.2 L631.1 741.7 L638.0 740.2 L644.9 743.2 L651.8 746.1 L658.7 750.5 L665.5 754.5 L672.4 753.5 L679.3 750.5 L686.2 747.8 L693.1 749.8 L699.9 750.2 L706.8 753.8 L713.7 760.3 L720.6 763.7 L727.5 764.2 L734.3 764.5 L741.2 766.4 L748.1 768.1 L755.0 768.9 L761.9 771.2 L768.7 773.5 L775.6 772.6 L782.5 771.5 L789.4 772.0 L796.3 774.6 L803.1 777.1 L810.0 780.2 L816.9 783.3 L823.8 783.3 L830.7 782.2 L837.5 784.3 L844.4 786.5 L851.3 790.7 L858.2 788.6 L865.1 790.0 L871.9 792.1 L878.8 789.0" fill="none" stroke="#f5873a" stroke-width="3" stroke-linejoin="round" stroke-linecap="round"/>
<text transform="translate(544.9 885.3) rotate(-90)" font-size="9" fill="#2a4068" text-anchor="end">jun-20</text>
<text transform="translate(565.5 885.3) rotate(-90)" font-size="9" fill="#2a4068" text-anchor="end">sep-20</text>
<text transform="translate(586.2 885.3) rotate(-90)" font-size="9" fill="#2a4068" text-anchor="end">dic-20</text>
<text transform="translate(606.8 885.3) rotate(-90)" font-size="9" fill="#2a4068" text-anchor="end">mar-21</text>
<text transform="translate(627.5 885.3) rotate(-90)" font-size="9" fill="#2a4068" text-anchor="end">jun-21</text>
<text transform="translate(648.1 885.3) rotate(-90)" font-size="9" fill="#2a4068" text-anchor="end">sep-21</text>
<text transform="translate(668.7 885.3) rotate(-90)" font-size="9" fill="#2a4068" text-anchor="end">dic-21</text>
<text transform="translate(689.4 885.3) rotate(-90)" font-size="9" fill="#2a4068" text-anchor="end">mar-22</text>
<text transform="translate(710.0 885.3) rotate(-90)" font-size="9" fill="#2a4068" text-anchor="end">jun-22</text>
<text transform="translate(730.7 885.3) rotate(-90)" font-size="9" fill="#2a4068" text-anchor="end">sep-22</text>
<text transform="translate(751.3 885.3) rotate(-90)" font-size="9" fill="#2a4068" text-anchor="end">dic-22</text>
<text transform="translate(771.9 885.3) rotate(-90)" font-size="9" fill="#2a4068" text-anchor="end">mar-23</text>
<text transform="translate(792.6 885.3) rotate(-90)" font-size="9" fill="#2a4068" text-anchor="end">jun-23</text>
<text transform="translate(813.2 885.3) rotate(-90)" font-size="9" fill="#2a4068" text-anchor="end">sep-23</text>
<text transform="translate(833.9 885.3) rotate(-90)" font-size="9" fill="#2a4068" text-anchor="end">dic-23</text>
<text transform="translate(854.5 885.3) rotate(-90)" font-size="9" fill="#2a4068" text-anchor="end">mar-24</text>
<text transform="translate(875.1 885.3) rotate(-90)" font-size="9" fill="#2a4068" text-anchor="end">jun-24</text>
<line x1="525.0" x2="552.5" y1="920.4" y2="920.4" stroke="#c2c2c2" stroke-width="1.7" stroke-dasharray="0.1 3.6" stroke-linecap="round"/>
<text x="556.4" y="923.5" font-size="8.9" fill="#1d355f" stroke="#1d355f" stroke-width="0.2">Agropecuario</text>
<line x1="525.0" x2="551.5" y1="930.0" y2="930.0" stroke="#004481" stroke-width="3.2" stroke-linecap="round"/>
<text x="556.4" y="933.1" font-size="8.9" fill="#1d355f" stroke="#1d355f" stroke-width="0.2">Construcción</text>
<line x1="524.0" x2="552.5" y1="939.5" y2="939.5" stroke="#d2d2d2" stroke-width="1.8"/>
<rect x="536.8" y="938.0" width="3" height="3" fill="#cfcfcf" stroke="#7f7f7f" stroke-width="0.9"/>
<text x="556.4" y="942.6" font-size="8.9" fill="#1d355f" stroke="#1d355f" stroke-width="0.2">Ind. extractivas</text>
<line x1="524.0" x2="552.5" y1="948.8" y2="948.8" stroke="#c2c2c2" stroke-width="2"/>
<circle cx="538.2" cy="948.8" r="3.2" fill="#bfbfbf"/>
<text x="556.4" y="951.9" font-size="8.9" fill="#1d355f" stroke="#1d355f" stroke-width="0.2">Serv. Soc. y com.</text>
<line x1="525.0" x2="551.5" y1="958.2" y2="958.2" stroke="#f5873a" stroke-width="3.2" stroke-linecap="round"/>
<text x="556.4" y="961.3" font-size="8.9" fill="#1d355f" stroke="#1d355f" stroke-width="0.2">Manufactura</text>
<line x1="730.3" x2="757.3" y1="920.4" y2="920.4" stroke="#48ae64" stroke-width="3.2" stroke-linecap="round"/>
<text x="760.7" y="923.5" font-size="8.9" fill="#1d355f" stroke="#1d355f" stroke-width="0.2">Comercio</text>
<line x1="729.3" x2="758.3" y1="930.0" y2="930.0" stroke="#c2c2c2" stroke-width="2"/>
<text x="760.7" y="933.1" font-size="8.9" fill="#1d355f" stroke="#1d355f" stroke-width="0.2">Ind. Eléctrica y agua</text>
<line x1="730.3" x2="757.3" y1="939.5" y2="939.5" stroke="#2dcccd" stroke-width="3.2" stroke-linecap="round"/>
<text x="760.7" y="942.6" font-size="8.9" fill="#1d355f" stroke="#1d355f" stroke-width="0.2">Serv. Emp., personas y hog.</text>
<line x1="729.3" x2="758.3" y1="948.8" y2="948.8" stroke="#c0c0c0" stroke-width="2" stroke-dasharray="5.4 2.6"/>
<text x="760.7" y="951.9" font-size="8.9" fill="#1d355f" stroke="#1d355f" stroke-width="0.2">Transp. y comunicaciones</text>
</g>
</svg>
</body></html>
